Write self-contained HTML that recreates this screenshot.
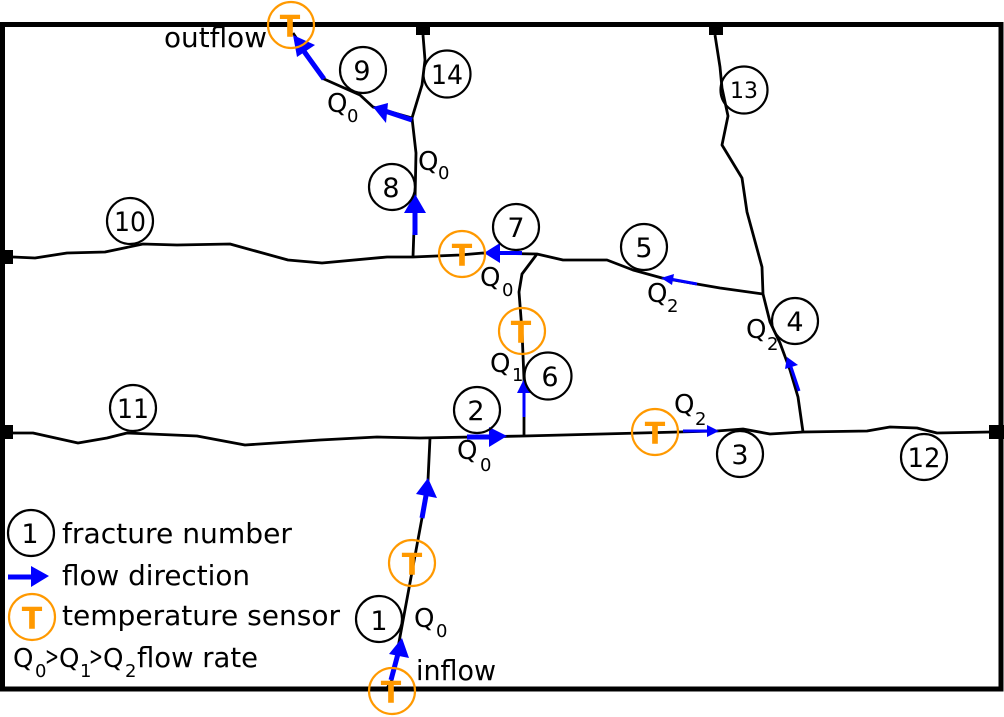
<!DOCTYPE html>
<html><head><meta charset="utf-8"><style>
html,body{margin:0;padding:0;background:#fff;width:1004px;height:717px;overflow:hidden}
svg{display:block}
text{font-family:"DejaVu Sans",sans-serif;fill:#000}
.n{font-size:27px;text-anchor:middle}
.t{font-size:30px;font-weight:bold;text-anchor:middle;fill:#f90}
.q{font-size:26px}
.s{font-size:18px}
.l{font-size:28px}
</style></head><body>
<svg width="1004" height="717" viewBox="0 0 1004 717" xmlns="http://www.w3.org/2000/svg">
<rect x="2.5" y="24.5" width="998.5" height="664.5" fill="none" stroke="#000" stroke-width="5"/>
<g fill="#000">
<rect x="416" y="24" width="14" height="11"/><rect x="709" y="24" width="14" height="11"/>
<rect x="0" y="250" width="13" height="14"/><rect x="0" y="425" width="13" height="14"/>
<rect x="989" y="425" width="15" height="14"/>
</g>
<g fill="none" stroke="#000" stroke-width="2.8" stroke-linejoin="round">
<polyline points="13,257 35,258 67,253 105,252 143,244 177,245 230,244 288,260 322,263 387,257 413,257 460,255 483,253 537,254 563,260 607,260 633,270 662,278 720,288 763,294"/>
<polyline points="13,433 33,433 78,443 107,438 127,433 197,436 245,445 320,440 377,437 420,438 524,436 717,431 743,429 770,434 803,432 867,431 890,427 917,428 937,433 990,432"/>
<polyline points="715,35 720,67 722,88 728,116 722,145 742,178 747,212 762,267 763,294 770,322 780,343 790,370 798,397 803,432"/>
<polyline points="423,35 425,60 422,85 412,118 416,153 415,200 413,257"/>
<polyline points="412,118 373,107 360,95 324,79 293,33"/>
<polyline points="430,438 428,480 422,518 392,680 386,690"/>
<polyline points="524,436 524,379 522,331 519,292 522,274 537,254"/>
</g>
<g stroke="#00f" fill="#00f">
<line x1="412" y1="120" x2="382" y2="110" stroke-width="5"/><polygon stroke="none" points="373,107 388,103 386,123"/>
<line x1="324" y1="79" x2="303" y2="50" stroke-width="5"/><polygon stroke="none" points="293,35 297,57 315,45"/>
<line x1="415" y1="235" x2="415" y2="208" stroke-width="5"/><polygon stroke="none" points="415,194 404,213 426,213"/>
<line x1="522" y1="253" x2="495" y2="253" stroke-width="4"/><polygon stroke="none" points="484,253 500,243 500,263"/>
<line x1="697" y1="284" x2="670" y2="279" stroke-width="3"/><polygon stroke="none" points="661,278 674,274 672,285"/>
<line x1="524" y1="417" x2="524" y2="390" stroke-width="3"/><polygon stroke="none" points="524,379 517,393 532,393"/>
<line x1="467" y1="437" x2="495" y2="437" stroke-width="5"/><polygon stroke="none" points="507,436 489,427 489,447"/>
<line x1="683" y1="431" x2="710" y2="431" stroke-width="3"/><polygon stroke="none" points="719,431 707,425 707,437"/>
<line x1="799" y1="391" x2="790" y2="364" stroke-width="3"/><polygon stroke="none" points="787,357 785,369 798,365"/>
<line x1="422" y1="518" x2="427" y2="490" stroke-width="5"/><polygon stroke="none" points="428,478 416,494 437,498"/>
<line x1="391" y1="680" x2="399" y2="650" stroke-width="5"/><polygon stroke="none" points="402,638 389,654 409,658"/>
<line x1="8" y1="577" x2="36" y2="577" stroke-width="5"/><polygon stroke="none" points="49,576 31,566 31,587"/>
</g>
<g fill="none" stroke="#000" stroke-width="2.2">
<circle cx="363" cy="70" r="23"/><circle cx="447" cy="74" r="23.5"/><circle cx="392" cy="187" r="23"/>
<circle cx="744" cy="90" r="23.5"/><circle cx="795" cy="321" r="23"/><circle cx="644" cy="247" r="23"/>
<circle cx="516" cy="227" r="23"/><circle cx="548" cy="376" r="23.5"/><circle cx="477" cy="410" r="23"/>
<circle cx="740" cy="454" r="23"/><circle cx="924" cy="457" r="23"/><circle cx="130" cy="221" r="23"/>
<circle cx="133" cy="408" r="23"/><circle cx="379" cy="619" r="23"/><circle cx="31" cy="533" r="23"/>
</g>
<g fill="none" stroke="#f90" stroke-width="2.2">
<circle cx="291" cy="25" r="23"/><circle cx="462" cy="254" r="23"/><circle cx="522" cy="331" r="23"/>
<circle cx="655" cy="432" r="23"/><circle cx="412" cy="563" r="23"/><circle cx="392" cy="691" r="23"/>
<circle cx="32" cy="617" r="23"/>
</g>
<g>
<text class="t" x="290" y="37">T</text><text class="t" x="462" y="266">T</text><text class="t" x="521" y="343">T</text>
<text class="t" x="655" y="444">T</text><text class="t" x="412" y="575">T</text><text class="t" x="391" y="703">T</text>
<text class="t" x="32" y="629">T</text>
</g>
<g>
<text class="n" x="362" y="80">9</text><text class="n" x="447" y="84" textLength="32" lengthAdjust="spacingAndGlyphs">14</text><text class="n" x="391" y="197">8</text>
<text class="n" x="744" y="98" style="font-size:22px">13</text><text class="n" x="795" y="331">4</text><text class="n" x="644" y="257">5</text>
<text class="n" x="516" y="237">7</text><text class="n" x="550" y="386">6</text><text class="n" x="476" y="420">2</text>
<text class="n" x="740" y="464">3</text><text class="n" x="924" y="467" textLength="33" lengthAdjust="spacingAndGlyphs">12</text><text class="n" x="130" y="231" textLength="32" lengthAdjust="spacingAndGlyphs">10</text>
<text class="n" x="133" y="418" textLength="32" lengthAdjust="spacingAndGlyphs">11</text><text class="n" x="379" y="630">1</text><text class="n" x="30" y="543">1</text>
</g>
<g>
<text class="q" x="327" y="112">Q</text><text class="s" x="347" y="122">0</text>
<text class="q" x="418" y="170">Q</text><text class="s" x="438" y="179">0</text>
<text class="q" x="480" y="286">Q</text><text class="s" x="502" y="296">0</text>
<text class="q" x="647" y="302">Q</text><text class="s" x="667" y="312">2</text>
<text class="q" x="490" y="372">Q</text><text class="s" x="512" y="381">1</text>
<text class="q" x="457" y="459">Q</text><text class="s" x="480" y="471">0</text>
<text class="q" x="674" y="413">Q</text><text class="s" x="695" y="425">2</text>
<text class="q" x="746" y="338">Q</text><text class="s" x="767" y="350">2</text>
<text class="q" x="414" y="627">Q</text><text class="s" x="436" y="637">0</text>
</g>
<g>
<text class="l" x="62" y="543" textLength="230" lengthAdjust="spacingAndGlyphs">fracture number</text>
<text class="l" x="62" y="585" textLength="188" lengthAdjust="spacingAndGlyphs">flow direction</text>
<text class="l" x="62" y="625" textLength="278" lengthAdjust="spacingAndGlyphs">temperature sensor</text>
<text class="q" x="13" y="667">Q</text><text class="s" x="35" y="677">0</text>
<text class="q" x="45" y="665" textLength="14" lengthAdjust="spacingAndGlyphs">&gt;</text>
<text class="q" x="59" y="667">Q</text><text class="s" x="80" y="677">1</text>
<text class="q" x="89" y="665" textLength="14" lengthAdjust="spacingAndGlyphs">&gt;</text>
<text class="q" x="103" y="667">Q</text><text class="s" x="125" y="677">2</text>
<text class="l" x="137" y="667" textLength="121" lengthAdjust="spacingAndGlyphs">flow rate</text>
<text class="l" x="416" y="680" textLength="80" lengthAdjust="spacingAndGlyphs">inflow</text>
<text class="l" x="164" y="47" textLength="103" lengthAdjust="spacingAndGlyphs">outflow</text>
</g>
</svg>
</body></html>
